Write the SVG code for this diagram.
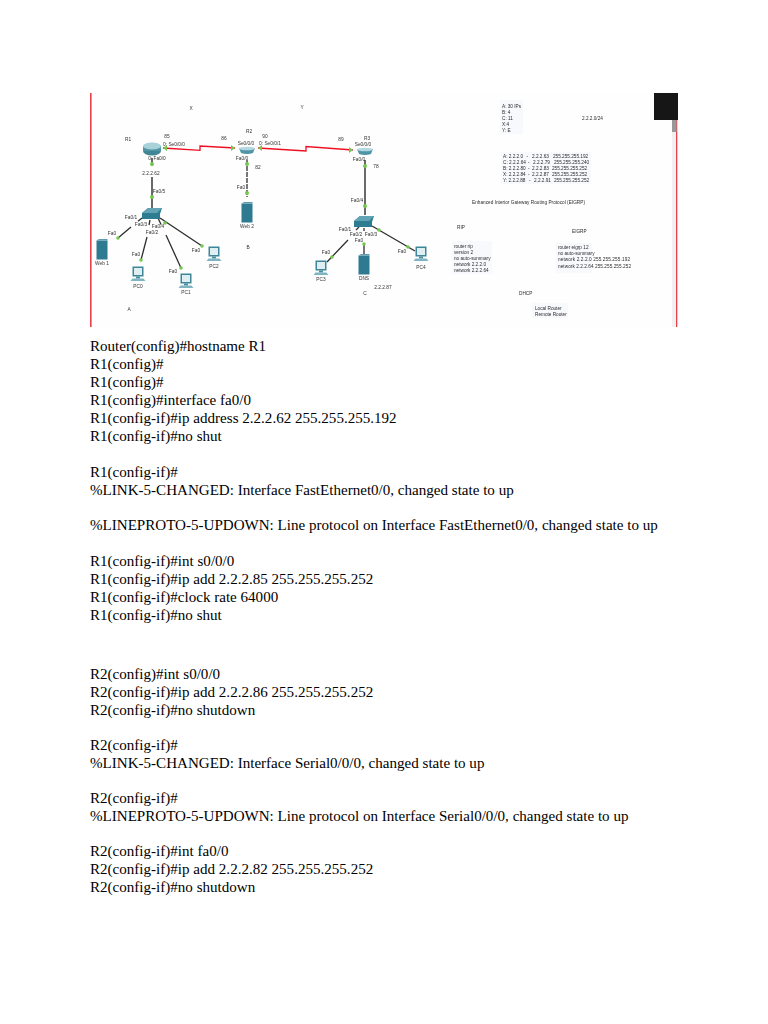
<svg xmlns="http://www.w3.org/2000/svg" width="768" height="1024" viewBox="0 0 768 1024">
<style>
.d{font-family:"Liberation Serif","Times New Roman",serif;font-size:15.07px;fill:#000}
.s{font-family:"Liberation Sans",Arial,sans-serif;font-size:4.8px;fill:#333;text-anchor:middle}
.l{font-family:"Liberation Sans",Arial,sans-serif;font-size:4.7px;fill:#2a2a2a}
.w{stroke:#2e2e2e;stroke-width:1.3;fill:none}
.sw{stroke:#444;stroke-width:1.6;fill:none}
.r{stroke:#f01020;stroke-width:1.3;fill:none}
.g{fill:#74c850}
.pale{fill:#f8f9fd}
</style>
<defs>
<filter id="b" x="-2%" y="-2%" width="104%" height="104%"><feGaussianBlur stdDeviation="0.45"/></filter>
<g id="router"><ellipse cx="0" cy="3" rx="9" ry="4.500" fill="#3f8596"/><rect x="-9" y="-2" width="18" height="5" fill="#4f95a6"/><ellipse cx="0" cy="-2" rx="9" ry="3.600" fill="#a9d1da"/></g>
<g id="router-flat"><path d="M-8-3H8L6 2Q0 4-6 2Z" fill="#4f95a6"/><ellipse cx="0" cy="-2.500" rx="8" ry="1.800" fill="#b5d8e0"/></g>
<g id="switch"><path d="M-10-1L-4-6H10L8 0V5H-10Z" fill="#2f7c92"/><path d="M-10-1L-4-6H10L5-1Z" fill="#62a3b5"/></g>
<g id="server"><rect x="-5.500" y="-9.500" width="11" height="19" fill="#2f7a90"/><path d="M-5.500-9.500L-3-11H5.500V-9.500Z" fill="#5d9dae"/></g>
<g id="pc"><rect x="-5.500" y="-7.500" width="11" height="10" fill="#3d8598"/><rect x="-4" y="-6" width="8" height="7" fill="#dfeef2"/><rect x="-2" y="2.500" width="4" height="2" fill="#4a8fa2"/><path d="M-7.500 7L-5.500 4.500H5.500L7.500 7Z" fill="#7fb4c3"/></g>
</defs>
<rect width="768" height="1024" fill="#fff"/>
<g id="screenshot" filter="url(#b)">
<rect x="91" y="93" width="586" height="234" fill="#fefeff"/>
<rect x="90" y="93" width="1.600" height="234" fill="#e8404c"/>
<rect x="676" y="120" width="1.300" height="207" fill="#e8404c"/>
<rect x="672" y="120" width="4" height="207" fill="#f0f0f0"/>
<rect x="672" y="120" width="4.500" height="12" fill="#999"/>
<rect x="654" y="93" width="24" height="27" fill="#141414"/>
<rect class="pale" x="500" y="100" width="23" height="34"/>
<rect class="pale" x="501" y="152" width="90" height="32"/>
<rect class="pale" x="452" y="241" width="40" height="33"/>
<rect class="pale" x="556" y="243" width="36" height="30"/>
<rect class="pale" x="532" y="303" width="36" height="15"/>

<g id="connectors">
<path class="r" d="M163 148L200 150.300V146L235 148"/>
<path class="r" d="M258 148L306 151V146.500L353 150"/>
<path class="sw" d="M152 158V166M152 177V208"/>
<path class="w" stroke-dasharray="5 1" d="M247 160V197"/>
<path class="sw" d="M365 160V215"/>
<path class="w" d="M142 218L138 221.300M131 227L118 238"/>
<path class="w" d="M150 220L149 225M147 237L141 260"/>
<path class="w" d="M158 218L161 224.500M166 235L181 268"/>
<path class="w" d="M160 218L202 246"/>
<path class="w" d="M359 227L356 230M348 240L327 262"/>
<path class="w" d="M364 228V231M364 243V254"/>
<path class="w" d="M372 226L415 251"/>
<g class="g">
<path d="M163 148l4-3v6zM235 148l-4-3v6zM258 148l4-3v6zM353 150l-4-3v6z"/>
<circle cx="152" cy="164" r="2"/><circle cx="152" cy="197" r="2"/>
<circle cx="247" cy="164" r="2"/><circle cx="247" cy="193" r="2"/>
<circle cx="365" cy="166" r="2"/><circle cx="365" cy="206" r="2"/>
<circle cx="118" cy="238" r="1.800"/><circle cx="141" cy="260" r="1.800"/><circle cx="181" cy="268" r="1.800"/><circle cx="202" cy="246" r="1.800"/><circle cx="165" cy="223" r="1.800"/>
<circle cx="332" cy="257" r="1.800"/><circle cx="364" cy="244" r="1.800"/><circle cx="379" cy="230" r="1.800"/><circle cx="408" cy="247" r="1.800"/>
</g>
</g>

<g id="R1"><use href="#router" x="152" y="148"/><text class="s" x="128" y="141">R1</text></g>
<g id="R2"><use href="#router-flat" x="247" y="151"/><text class="s" x="249" y="133">R2</text></g>
<g id="R3"><use href="#router-flat" x="365" y="152"/><text class="s" x="367" y="140">R3</text></g>
<g id="SW1"><use href="#switch" x="152" y="214"/></g>
<g id="SW2"><use href="#switch" x="364" y="222"/></g>
<g id="Web1"><use href="#server" x="102" y="250"/><text class="s" x="102" y="265">Web 1</text></g>
<g id="Web2"><use href="#server" x="247" y="213"/><text class="s" x="247" y="228">Web 2</text></g>
<g id="DNS"><use href="#server" x="364" y="265"/><text class="s" x="364" y="280">DNS</text></g>
<g id="PC0"><use href="#pc" x="138" y="274"/><text class="s" x="138" y="288">PC0</text></g>
<g id="PC1"><use href="#pc" x="186" y="281"/><text class="s" x="186" y="294">PC1</text></g>
<g id="PC2"><use href="#pc" x="214" y="254"/><text class="s" x="214" y="268">PC2</text></g>
<g id="PC3"><use href="#pc" x="321" y="268"/><text class="s" x="321" y="281">PC3</text></g>
<g id="PC4"><use href="#pc" x="421" y="254"/><text class="s" x="421" y="269">PC4</text></g>

<g id="labels">
<text class="s" x="191" y="110">X</text><text class="s" x="302" y="109">Y</text>
<text class="s" x="167" y="138">85</text><text class="s" x="174" y="146">0: Se0/0/0</text><text class="s" x="157" y="160">0: Fa0/0</text>
<text class="s" x="151" y="175">2.2.2.62</text><text class="s" x="159" y="193">Fa0/5</text>
<text class="s" x="224" y="140">86</text><text class="s" x="246" y="145">Se0/0/0</text><text class="s" x="265" y="138">90</text><text class="s" x="270" y="145">0: Se0/0/1</text>
<text class="s" x="242" y="160">Fa0/0</text><text class="s" x="258" y="169">82</text><text class="s" x="241" y="189">Fa0</text>
<text class="s" x="248" y="249">B</text><text class="s" x="129" y="311">A</text>
<text class="s" x="131" y="219">Fa0/1</text><text class="s" x="141" y="226">Fa0/3</text><text class="s" x="158" y="228">Fa0/4</text><text class="s" x="152" y="234">Fa0/2</text>
<text class="s" x="112" y="235">Fa0</text><text class="s" x="136" y="256">Fa0</text><text class="s" x="173" y="273">Fa0</text><text class="s" x="196" y="252">Fa0</text>
<text class="s" x="341" y="141">89</text><text class="s" x="363" y="146">Se0/0/0</text><text class="s" x="359" y="161">Fa0/0</text><text class="s" x="376" y="168">78</text><text class="s" x="357" y="202">Fa0/4</text>
<text class="s" x="345" y="231">Fa0/1</text><text class="s" x="356" y="236">Fa0/2</text><text class="s" x="371" y="236">Fa0/3</text><text class="s" x="359" y="242">Fa0</text>
<text class="s" x="326" y="254">Fa0</text><text class="s" x="402" y="253">Fa0</text><text class="s" x="383" y="289">2.2.2.87</text><text class="s" x="365" y="295">C</text>
</g>

<g id="notes">
<text class="l" x="502" y="108">A: 30 IPs</text><text class="l" x="502" y="114">B: 4</text><text class="l" x="502" y="120">C: 11</text><text class="l" x="502" y="126">X:4</text><text class="l" x="502" y="132">Y: E</text>
<text class="l" x="582" y="120">2.2.2.0/24</text>
<text class="l" y="158"><tspan x="503">A: 2.2.2.0</tspan><tspan x="526.500">-</tspan><tspan x="532">2.2.2.63</tspan><tspan x="553">255.255.255.192</tspan></text>
<text class="l" y="164"><tspan x="503">C: 2.2.2.64</tspan><tspan x="528">-</tspan><tspan x="533">2.2.2.79</tspan><tspan x="554">255.255.255.240</tspan></text>
<text class="l" y="170"><tspan x="503">B: 2.2.2.80</tspan><tspan x="528">-</tspan><tspan x="532">2.2.2.83</tspan><tspan x="552">255.255.255.252</tspan></text>
<text class="l" y="176"><tspan x="503">X: 2.2.2.84</tspan><tspan x="528">-</tspan><tspan x="532">2.2.2.87</tspan><tspan x="552">255.255.255.252</tspan></text>
<text class="l" y="182"><tspan x="503">Y: 2.2.2.88</tspan><tspan x="529">-</tspan><tspan x="534">2.2.2.91</tspan><tspan x="554">255.255.255.252</tspan></text>
<text class="l" x="472" y="204" textLength="113">Enhanced Interior Gateway Routing Protocol (EIGRP)</text>
<text class="l" x="457" y="229">RIP</text><text class="l" x="572" y="233">EIGRP</text>
<text class="l" x="454" y="248">router rip</text><text class="l" x="454" y="254">version 2</text><text class="l" x="454" y="260">no auto-summary</text><text class="l" x="454" y="266">network 2.2.2.0</text><text class="l" x="454" y="272">network 2.2.2.64</text>
<text class="l" x="558" y="249">router eigrp  12</text><text class="l" x="558" y="255">no auto-summary</text><text class="l" x="558" y="261" textLength="72">network 2.2.2.0 255.255.255.192</text><text class="l" x="558" y="268" textLength="73">network 2.2.2.64 255.255.255.252</text>
<text class="l" x="519" y="295">DHCP</text><text class="l" x="535" y="310">Local Router</text><text class="l" x="535" y="316">Remote Router</text>
</g>
</g>

<g id="transcript">
<text class="d" x="90" y="351">Router(config)#hostname R1</text>
<text class="d" x="90" y="369">R1(config)#</text>
<text class="d" x="90" y="387">R1(config)#</text>
<text class="d" x="90" y="405">R1(config)#interface fa0/0</text>
<text class="d" x="90" y="423">R1(config-if)#ip address 2.2.2.62 255.255.255.192</text>
<text class="d" x="90" y="441">R1(config-if)#no shut</text>
<text class="d" x="90" y="477">R1(config-if)#</text>
<text class="d" x="90" y="495">%LINK-5-CHANGED: Interface FastEthernet0/0, changed state to up</text>
<text class="d" x="90" y="530">%LINEPROTO-5-UPDOWN: Line protocol on Interface FastEthernet0/0, changed state to up</text>
<text class="d" x="90" y="566">R1(config-if)#int s0/0/0</text>
<text class="d" x="90" y="584">R1(config-if)#ip add 2.2.2.85 255.255.255.252</text>
<text class="d" x="90" y="602">R1(config-if)#clock rate 64000</text>
<text class="d" x="90" y="620">R1(config-if)#no shut</text>
<text class="d" x="90" y="679">R2(config)#int s0/0/0</text>
<text class="d" x="90" y="697">R2(config-if)#ip add 2.2.2.86 255.255.255.252</text>
<text class="d" x="90" y="715">R2(config-if)#no shutdown</text>
<text class="d" x="90" y="750">R2(config-if)#</text>
<text class="d" x="90" y="768">%LINK-5-CHANGED: Interface Serial0/0/0, changed state to up</text>
<text class="d" x="90" y="803">R2(config-if)#</text>
<text class="d" x="90" y="821">%LINEPROTO-5-UPDOWN: Line protocol on Interface Serial0/0/0, changed state to up</text>
<text class="d" x="90" y="856">R2(config-if)#int fa0/0</text>
<text class="d" x="90" y="874">R2(config-if)#ip add 2.2.2.82 255.255.255.252</text>
<text class="d" x="90" y="892">R2(config-if)#no shutdown</text>
</g>
</svg>
